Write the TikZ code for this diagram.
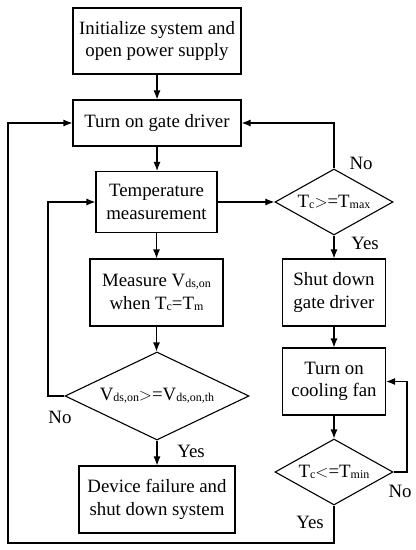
\documentclass[tikz,border=0pt]{standalone}
\usepackage{fontspec}
\setmainfont{Liberation Serif}
\usetikzlibrary{shapes.geometric,arrows.meta}

\newcommand{\lo}[1]{\raisebox{-1pt}{\fontsize{12}{12}\selectfont #1}}

\begin{document}
\begin{tikzpicture}[x=1bp, y=-1bp,
    box/.style={draw, line width=1.1bp, inner sep=0pt, align=center},
    decision/.style={draw, diamond, line width=1.1bp, inner sep=0pt, shape aspect=1.8},
    lbl/.style={inner sep=0pt},
    flow/.style={line width=1.1bp, -{Latex[length=9bp, width=7bp]}},
    font=\fontsize{18.9}{22.5}\selectfont]
    \useasboundingbox (0, 0) rectangle (415, 550);

    % Nodes
    \path (157, 41) node [box, minimum width=168bp, minimum height=66bp] (init) {Initialize system and\\open power supply};
    \path (157, 123) node [box, minimum width=168bp, minimum height=46bp] (gate) {Turn on gate driver};
    \path (156.5, 202) node [box, minimum width=121bp, minimum height=61bp] (temp) {Temperature\\measurement};
    \path (156.5, 292.5) node [box, minimum width=133bp, minimum height=67bp] (meas) {Measure V\lo{ds,on}\\when T\lo{c}=T\lo{m}};
    \path (157, 396) node [decision, minimum width=184bp, minimum height=88bp] (vds) {V\lo{ds,on}$>$=V\lo{ds,on,th}};
    \path (157, 499.5) node [box, minimum width=156bp, minimum height=67bp] (fail) {Device failure and\\shut down system};
    \path (334, 202) node [decision, minimum width=118bp, minimum height=66bp] (tmax) {T\lo{c}$>$=T\lo{max}};
    \path (334, 292.5) node [box, minimum width=103bp, minimum height=67bp] (shut) {Shut down\\gate driver};
    \path (334, 381.5) node [box, minimum width=103bp, minimum height=67bp] (cool) {Turn on\\cooling fan};
    \path (334, 472) node [decision, minimum width=118bp, minimum height=66bp] (tmin) {T\lo{c}$<$=T\lo{min}};

    % Loop corners
    \path (8, 543) coordinate (outer);
    \path (48, 396) coordinate (inner);
    \path (407, 472) coordinate (fan);

    % Labels
    \path (361, 163) node [lbl] (noTmax) {No};
    \path (365, 243) node [lbl] (yesTmax) {Yes};
    \path (60, 417) node [lbl] (noVds) {No};
    \path (191, 451) node [lbl] (yesVds) {Yes};
    \path (400, 491) node [lbl] (noTmin) {No};
    \path (310, 522) node [lbl] (yesTmin) {Yes};

    % Connections
    \draw [flow] (init) -- (gate);
    \draw [flow] (gate) -- (gate |- temp.north);
    \draw [flow] (temp) -- (tmax);
    \draw [flow] (temp) -- (temp |- meas.north);
    \draw [flow] (meas) -- (meas |- vds.north);
    \draw [flow] (vds) -- (vds |- fail.north);
    \draw [flow] (vds.west) -- (inner) |- (temp.west);
    \draw [flow] (tmax) -- (shut);
    \draw [flow] (tmax.north) |- (gate.east);
    \draw [flow] (shut) -- (cool);
    \draw [flow] (cool) -- (tmin);
    \draw [flow] (tmin.east) -- (fan) |- (cool.east);
    \draw [flow] (tmin.south) |- (outer) |- (gate.west);
  \end{tikzpicture}
\end{document}
